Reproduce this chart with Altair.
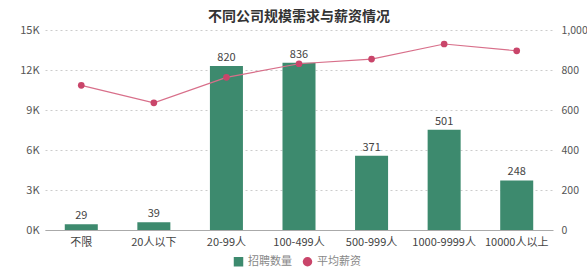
import altair as alt
import pandas as pd

categories = ['不限', '20人以下', '20-99人', '100-499人', '500-999人', '1000-9999人', '10000人以上']
counts = [29, 39, 820, 836, 371, 501, 248]
salary = [10850, 9540, 11450, 12470, 12820, 13950, 13440]

df = pd.DataFrame({'cat': categories, 'count': counts, 'salary': salary})

FONT = 'Noto Sans CJK SC'
GREEN = '#3d8a6e'
RED = '#c9456a'

x = alt.X('cat:N', sort=categories, title=None,
          scale=alt.Scale(paddingInner=0.545, paddingOuter=0.2725),
          axis=alt.Axis(labelAngle=0, labelColor='#444', labelFontSize=11, labelFont=FONT,
                        domainColor='#aaa', ticks=False, labelPadding=6, grid=False,
                        labelOverlap=False))

color_scale = alt.Scale(domain=['招聘数量', '平均薪资'], range=[GREEN, RED])
shape_scale = alt.Scale(domain=['招聘数量', '平均薪资'], range=['square', 'circle'])

base = alt.Chart(df)

ycount = alt.Y('count:Q', title=None,
               scale=alt.Scale(domain=[0, 1000]),
               axis=alt.Axis(orient='right', values=[0, 200, 400, 600, 800, 1000],
                             labelExpr="format(datum.value, ',')",
                             grid=False, domain=False, ticks=False, labelColor='#555',
                             labelFontSize=10.5, labelFont=FONT, labelPadding=8,
                             labelOverlap=False))

bars = base.mark_bar(color=GREEN).encode(
    x=x,
    y=ycount,
    color=alt.Color('s:N', scale=color_scale, title=None),
    shape=alt.Shape('s:N', scale=shape_scale, title=None),
).transform_calculate(s="'招聘数量'")

labels = base.mark_text(dy=-8, color='#444', fontSize=11, font=FONT).encode(
    x=alt.X('cat:N', sort=categories),
    y=ycount,
    text='count:Q',
)

bar_layer = alt.layer(bars, labels)

ysal = alt.Y('salary:Q', title=None,
             scale=alt.Scale(domain=[0, 15000]),
             axis=alt.Axis(orient='left', values=[0, 3000, 6000, 9000, 12000, 15000],
                           labelExpr="datum.value/1000 + 'K'",
                           grid=True, gridDash=[2, 3], gridColor='#ccc',
                           domain=False, ticks=False, labelColor='#555',
                           labelFontSize=11, labelFont=FONT, labelPadding=6,
                           labelOverlap=False))

line = base.mark_line(color='#d86f8a', strokeWidth=1.2).encode(
    x=alt.X('cat:N', sort=categories),
    y=ysal,
)

points = base.mark_point(filled=True, size=45, opacity=1).encode(
    x=alt.X('cat:N', sort=categories),
    y=ysal,
    color=alt.Color('s:N', scale=color_scale, title=None),
    shape=alt.Shape('s:N', scale=shape_scale, title=None),
).transform_calculate(s="'平均薪资'")

line_layer = alt.layer(line, points)

chart = alt.layer(bar_layer, line_layer).resolve_scale(
    y='independent'
).properties(
    width=508, height=200,
    title=alt.TitleParams('不同公司规模需求与薪资情况', font=FONT, fontSize=14,
                          fontWeight='bold', color='#333', offset=0),
    padding={'left': 45, 'top': 30, 'right': 34, 'bottom': 45},
    autosize=alt.AutoSizeParams(type='none'),
).configure_view(stroke=None).configure_legend(
    orient='none', legendX=188, legendY=226, direction='horizontal',
    labelColor='#888', labelFont=FONT,
    labelFontSize=11, symbolSize=90, symbolStrokeWidth=0, columnPadding=10,
    symbolOpacity=1
)

chart.save('out.html', embed_options={'renderer': 'svg', 'actions': False})
